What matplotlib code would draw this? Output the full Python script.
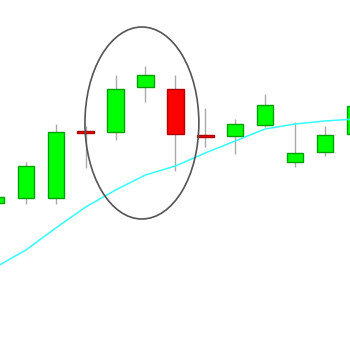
import matplotlib
matplotlib.use("Agg")
import matplotlib.pyplot as plt
from matplotlib.patches import Rectangle, Ellipse

# candle data (price units)
OPEN  = [147, 152, 152, 219, 218, 263, 261, 215, 214, 225, 188, 198, 216]
CLOSE = [153, 184, 218, 217, 261, 275, 216, 213, 226, 245, 197, 215, 244]
HIGH  = [157, 188, 226, 224, 275, 284, 275, 242, 231, 256, 228, 224, 250]
LOW   = [142, 146, 146, 182, 210, 248, 179, 203, 196, 223, 183, 194, 210]
MA    = [83, 100, 122, 143, 160, 175, 184, 197, 209, 221, 226, 229, 231]

# highlighted region (index, price) and size
ELLIPSE_CENTER = (4.88, 227)
ELLIPSE_W = 3.81
ELLIPSE_H = 192

fig = plt.figure(figsize=(3.5, 3.5), dpi=100)
ax = fig.add_axes([0, 0, 1, 1])
ax.set_xlim(0.134, 11.84)
ax.set_ylim(0, 350)
ax.axis("off")

width = 0.55
for i, (o, c, h, l) in enumerate(zip(OPEN, CLOSE, HIGH, LOW)):
    up = c >= o
    face = "#00ff00" if up else "#ff0000"
    edge = "#00a000" if up else "#b00000"
    ax.vlines(i, l, h, color="#aaaaaa", lw=1, zorder=1)
    lo, hi = min(o, c), max(o, c)
    ax.add_patch(Rectangle((i - width / 2, lo), width, max(hi - lo, 2.5),
                           facecolor=face, edgecolor=edge, lw=1, zorder=2))

ax.plot(range(len(MA)), MA, color="#33ffff", lw=1.1, zorder=3)

ax.add_patch(Ellipse(ELLIPSE_CENTER, ELLIPSE_W, ELLIPSE_H, fill=False,
                     edgecolor="#555555", lw=1.2, zorder=4))

fig.savefig("out.png", dpi=100)
